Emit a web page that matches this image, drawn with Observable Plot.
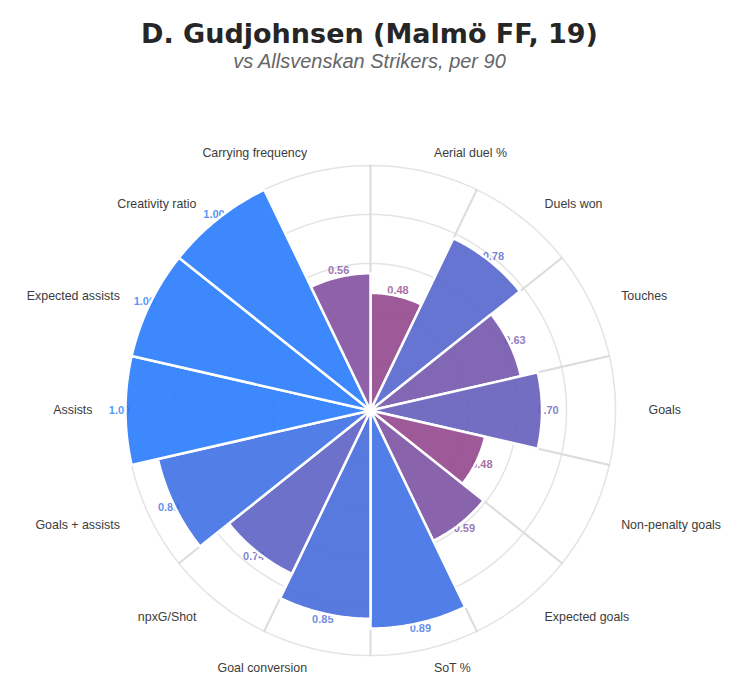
<!DOCTYPE html>
<html><head><meta charset="utf-8">
<script src="https://cdn.jsdelivr.net/npm/d3@7"></script>
<script src="https://cdn.jsdelivr.net/npm/@observablehq/plot@0.6"></script>
<style>
body{margin:0;background:#fff;}
#head{height:90px;text-align:center;}
#title{font-family:"DejaVu Sans",sans-serif;font-weight:bold;font-size:27px;line-height:32px;padding-top:18px;color:#262626;}
#sub{font-family:"Liberation Sans",Arial,sans-serif;font-style:italic;font-size:20px;line-height:24px;margin-top:-1px;color:#666;}
#chart svg{display:block;}
</style></head><body>
<div id="head"><div id="title">D. Gudjohnsen (Malmö FF, 19)</div><div id="sub">vs Allsvenskan Strikers, per 90</div></div>
<div id="chart"></div>
<script>
// Categories clockwise from the top
const categories = ["Aerial duel %","Duels won","Touches","Goals","Non-penalty goals","Expected goals","SoT %","Goal conversion","npxG/Shot","Goals + assists","Assists","Expected assists","Creativity ratio","Carrying frequency"];
const values = [0.48,0.78,0.63,0.70,0.48,0.59,0.89,0.85,0.74,0.89,1.00,1.00,1.00,0.56];
const gridLevels = [0.2,0.4,0.6,0.8,1.0];

// layout
const W = 739, H = 609, CX = 370, CY = 320, R = 245;
const N = categories.length, step = 2*Math.PI/N;
const pol = (r, a) => ({x: r*Math.sin(a), y: r*Math.cos(a)});

const wedges = categories.flatMap((c,i) => {
  const v = values[i];
  const pts = [{cat:c, value:v, x:0, y:0}];
  for (let k = 0; k <= 30; k++) pts.push({cat:c, value:v, ...pol(v, i*step + k*step/30)});
  pts.push({cat:c, value:v, x:0, y:0});
  return pts;
});
const rings = gridLevels.flatMap(l => d3.range(0, 361, 2).map(d => ({level:l, ...pol(l, d*Math.PI/180)})));
const spokes = categories.flatMap((c,i) => [{i, ...pol(0, i*step)}, {i, ...pol(1, i*step)}]);
const valueLabels = categories.map((c,i) => ({cat:c, value:values[i], label:values[i].toFixed(2), ...pol(values[i] + 6/R, (i+0.5)*step)}));
const catLabels = categories.map((c,i) => {
  const a = (i+0.5)*step, s = Math.sin(a);
  return {cat:c, side: s > 0.05 ? "start" : s < -0.05 ? "end" : "middle",
          x: (276*s + 2*Math.sign(s))/R, y: 264*Math.cos(a)/R};
});

const font = "Liberation Sans, Arial, sans-serif";
const chart = Plot.plot({
  width: W, height: H, margin: 0,
  x: {domain: [-CX/R, (W-CX)/R], axis: null},
  y: {domain: [-(H-CY)/R, CY/R], axis: null},
  color: {type: "linear", domain: [0,1], range: ["rgb(246,25,38)","rgb(39,123,252)"], interpolate: "rgb"},
  marks: [
    Plot.line(rings, {x:"x", y:"y", z:"level", stroke:"#e4e4e4", strokeWidth:1.5}),
    Plot.line(spokes, {x:"x", y:"y", z:"i", stroke:"#dcdcdc", strokeWidth:2}),
    Plot.text(valueLabels, {x:"x", y:"y", text:"label", fill:"value", fillOpacity:0.8, fontSize:11, fontWeight:"bold", fontFamily:font}),
    Plot.line(wedges, {x:"x", y:"y", z:"cat", fill:"value", fillOpacity:0.9, stroke:"white", strokeWidth:2.5, strokeLinejoin:"round"}),
    ...["start","end","middle"].map(side => Plot.text(catLabels.filter(d => d.side === side), {x:"x", y:"y", text:"cat", textAnchor:side, fill:"#3c3c3c", fontSize:12.4, fontFamily:font}))
  ]
});
document.getElementById("chart").appendChild(chart);
</script>
</body></html>
